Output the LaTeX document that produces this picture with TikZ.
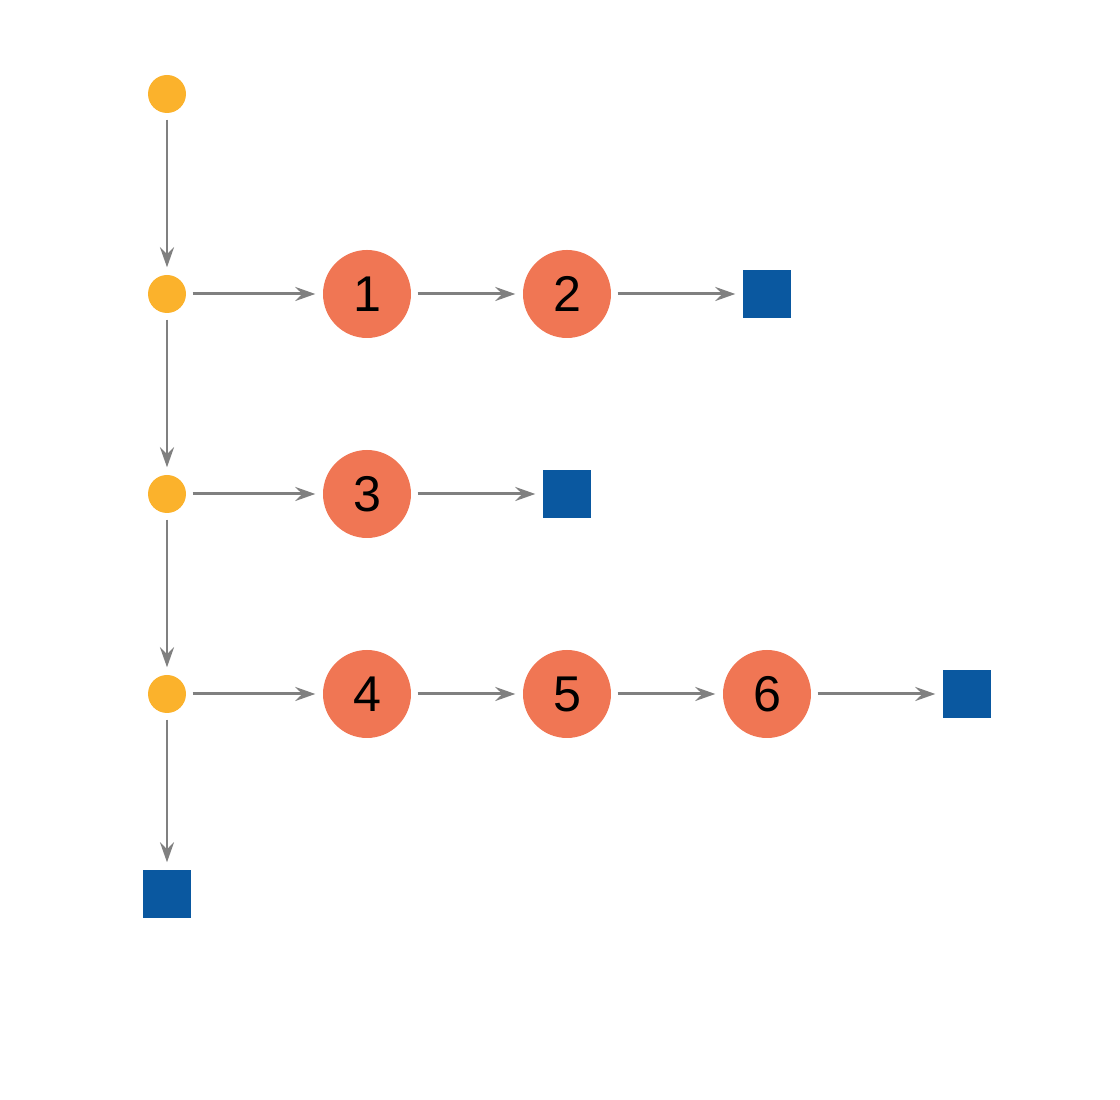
\documentclass[tikz,border=0pt]{standalone}
\usepackage{fontspec}
\setmainfont{Liberation Sans}
\usepackage{xcolor}
\usetikzlibrary{positioning,arrows.meta}
\definecolor{dotyellow}{HTML}{FBB22C}
\definecolor{itemred}{HTML}{F07654}
\definecolor{endblue}{HTML}{0A58A0}
\tikzset{dot/.style={circle,fill=dotyellow,minimum size=0.38cm,inner sep=0pt},
item/.style={circle,fill=itemred,minimum size=0.88cm,inner sep=0pt,font=\fontsize{14.3}{17}\selectfont},
stop/.style={rectangle,fill=endblue,minimum size=0.48cm,inner sep=0pt},
link/.style={draw=gray,line width=0.85pt,-{Stealth[length=0.2cm,width=0.14cm,inset=0.07cm]},shorten <=0.06cm,shorten >=0.07cm}}

\begin{document}
\begin{tikzpicture}
        \useasboundingbox (0,0) rectangle (11.2,11);
        \node[dot] (s0)at (1.67,10.06) {};
        \node[dot] (s1)at (1.67,8.06) {};
        \node[dot] (s2)at (1.67,6.06) {};
        \node[dot] (s3)at (1.67,4.06) {};
        \node[item] (n1)at (3.67,8.06) {1};
        \node[item] (n2)at (5.67,8.06) {2};
        \node[item] (n3)at (3.67,6.06) {3};
        \node[item] (n4)at (3.67,4.06) {4};
        \node[item] (n5)at (5.67,4.06) {5};
        \node[item] (n6)at (7.67,4.06) {6};
        \node[stop] (e1)at (7.67,8.06) {};
        \node[stop] (e2)at (5.67,6.06) {};
        \node[stop] (e3)at (9.67,4.06) {};
        \node[stop] (e4)at (1.67,2.06) {};

        \draw [link] (s0) to (s1);
        \draw [link] (s1) to (s2);
        \draw [link] (s2) to (s3);
        \draw [link] (s3) to (e4);
        \draw [link] (s1) to (n1);
        \draw [link] (n1) to (n2);
        \draw [link] (n2) to (e1);
        \draw [link] (s2) to (n3);
        \draw [link] (n3) to (e2);
        \draw [link] (s3) to (n4);
        \draw [link] (n4) to (n5);
        \draw [link] (n5) to (n6);
        \draw [link] (n6) to (e3);
    \end{tikzpicture}
\end{document}
